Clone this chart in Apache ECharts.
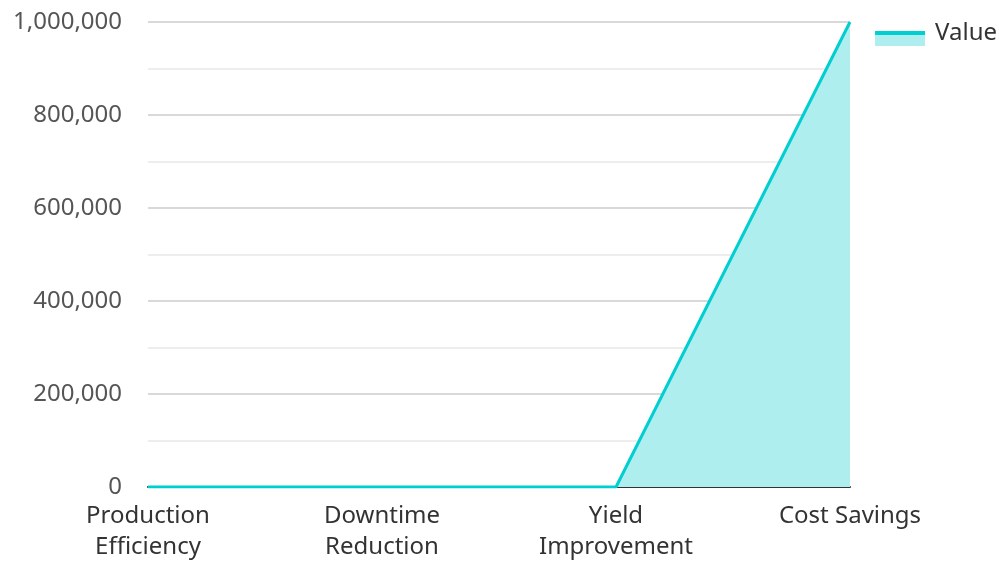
<!DOCTYPE html>
<html>
<head>
<meta charset="utf-8">
<script src="https://cdn.jsdelivr.net/npm/echarts@6/dist/echarts.min.js"></script>
<style>
  html, body { margin: 0; padding: 0; background: #fff; }
  #chart { width: 999px; height: 563px; }
</style>
</head>
<body>
<div id="chart"></div>
<script>
// Benefit categories and their values
const categories = ['Production\nEfficiency', 'Downtime\nReduction', 'Yield\nImprovement', 'Cost Savings'];
const values = [15, 20, 10, 1000000];
const seriesName = 'Value';

const lineColor = '#00CED1';
const fillColor = '#AFEEEE';
const chart = echarts.init(document.getElementById('chart'));
const font = 'Noto Sans, Open Sans, sans-serif';

// legend swatch: thin line on top of a filled band, sitting below the text midline
const swatch = new echarts.graphic.LinearGradient(0, 0, 0, 1, [
  { offset: 0, color: 'rgba(255,255,255,0)' },
  { offset: 0.433, color: 'rgba(255,255,255,0)' },
  { offset: 0.433, color: lineColor },
  { offset: 0.566, color: lineColor },
  { offset: 0.566, color: fillColor },
  { offset: 0.933, color: fillColor },
  { offset: 0.933, color: 'rgba(255,255,255,0)' },
  { offset: 1, color: 'rgba(255,255,255,0)' }
]);

chart.setOption({
  animation: false,
  textStyle: { fontFamily: font },
  legend: {
    right: -3,
    top: 13,
    itemWidth: 50,
    itemHeight: 30,
    itemGap: 10,
    icon: 'rect',
    itemStyle: { color: swatch, borderWidth: 0 },
    lineStyle: { width: 0, opacity: 0 },
    textStyle: { fontSize: 24, color: '#333', fontFamily: font, padding: [0, 0, 0, 5] },
    data: [seriesName]
  },
  grid: { left: 148, right: 149, top: 22, bottom: 68, containLabel: false },
  xAxis: {
    type: 'category',
    data: categories,
    boundaryGap: false,
    axisLine: { lineStyle: { color: '#333', width: 2 } },
    axisTick: { show: false },
    axisLabel: { fontSize: 24, color: '#333', lineHeight: 31, margin: 14, interval: 0, fontFamily: font }
  },
  yAxis: {
    type: 'value',
    min: 0,
    max: 1000000,
    interval: 200000,
    axisLine: { show: false },
    axisTick: { show: false },
    axisLabel: {
      fontSize: 24, color: '#555', margin: 26, fontFamily: font,
      formatter: v => v.toLocaleString('en-US')
    },
    splitLine: { lineStyle: { color: '#cccccc', width: 1.5 } },
    minorTick: { show: false, splitNumber: 2 },
    minorSplitLine: { show: true, lineStyle: { color: '#e8e8e8', width: 1.5 } }
  },
  series: [{
    name: seriesName,
    type: 'line',
    data: values,
    symbol: 'none',
    lineStyle: { color: lineColor, width: 3 },
    itemStyle: { color: lineColor },
    areaStyle: { color: fillColor, opacity: 1 }
  }]
});
</script>
</body>
</html>
